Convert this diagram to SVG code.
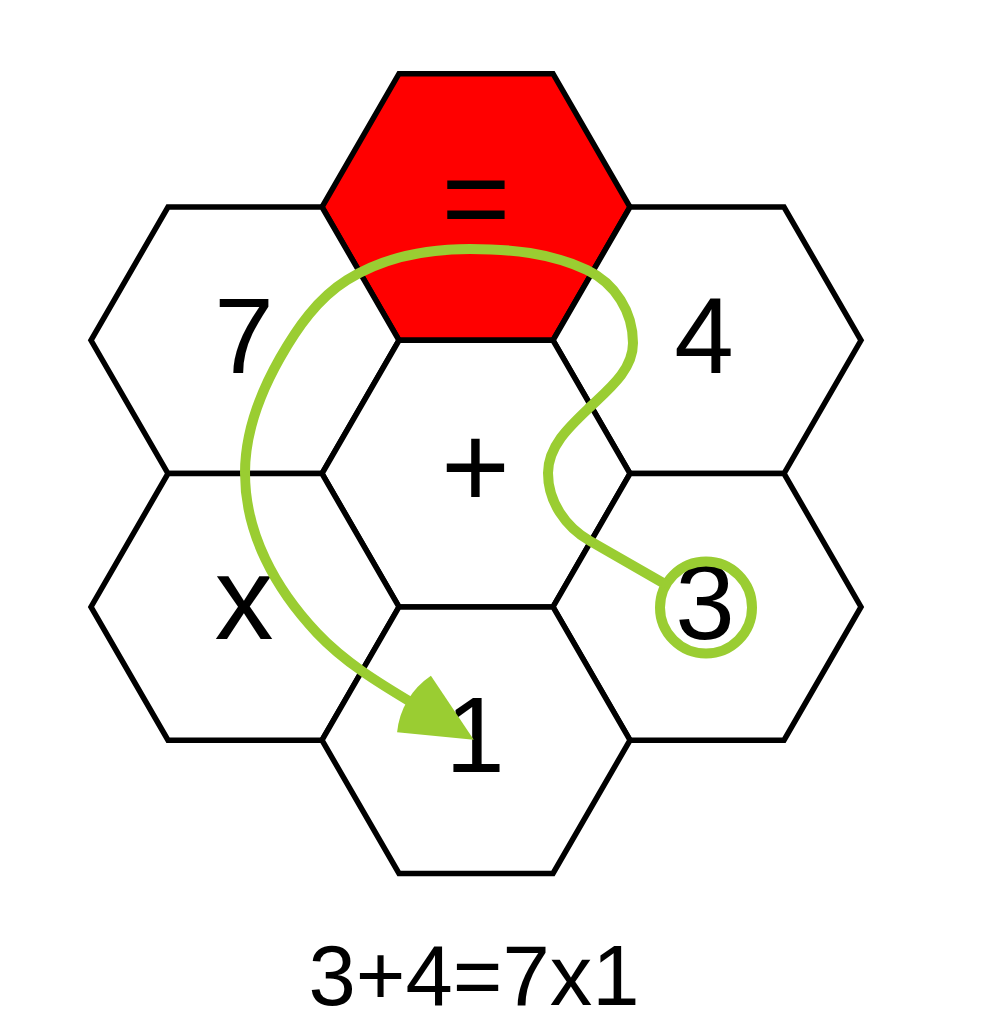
<svg xmlns="http://www.w3.org/2000/svg" width="1000" height="1025" viewBox="0 0 1000 1025">
  <style>
    .hex { fill: #FFFFFF; stroke: #000000; stroke-width: 5.5; }
    .hex.eq { fill: #FF0000; }
    .lbl { font-family: "Liberation Sans", Arial, sans-serif; font-size: 107px; fill: #000000; text-anchor: middle; }
    .op { font-size: 118px; }
    .conn { fill: none; stroke: #9ACD32; stroke-width: 10; }
    .caption { font-family: "Liberation Sans", Arial, sans-serif; font-size: 85px; fill: #000000; text-anchor: middle; }
  </style>
  <defs>
    <marker id="sectorArrow" markerUnits="userSpaceOnUse" markerWidth="80" markerHeight="80" refX="0" refY="0" orient="auto" overflow="visible">
      <path d="M69.6,0 L0,-33 A77,77 0 0,0 0,33 Z" fill="#9ACD32"/>
    </marker>
  </defs>
  <rect x="0" y="0" width="1000" height="1025" fill="#FFFFFF"/>

  <g id="node-equals">
    <polygon class="hex eq" points="399,73.7 553,73.7 630,207 553,340.3 399,340.3 322,207"/>
    <text class="lbl op" x="476" y="238.7">=</text>
  </g>
  <g id="node-7">
    <polygon class="hex" points="168,207 322,207 399,340.3 322,473.6 168,473.6 91,340.3"/>
    <text class="lbl" x="244" y="373">7</text>
  </g>
  <g id="node-4">
    <polygon class="hex" points="630,207 784,207 861,340.3 784,473.6 630,473.6 553,340.3"/>
    <text class="lbl" x="704" y="373">4</text>
  </g>
  <g id="node-plus">
    <polygon class="hex" points="399,340.3 553,340.3 630,473.6 553,606.9 399,606.9 322,473.6"/>
    <text class="lbl op" x="475.5" y="506.5">+</text>
  </g>
  <g id="node-x">
    <polygon class="hex" points="168,473.6 322,473.6 399,606.9 322,740.2 168,740.2 91,606.9"/>
    <text class="lbl op" x="244" y="639">x</text>
  </g>
  <g id="node-3">
    <polygon class="hex" points="630,473.6 784,473.6 861,606.9 784,740.2 630,740.2 553,606.9"/>
    <text class="lbl" x="705" y="639">3</text>
  </g>
  <g id="node-1">
    <polygon class="hex" points="399,606.9 553,606.9 630,740.2 553,873.5 399,873.5 322,740.2"/>
    <text class="lbl" x="475" y="772">1</text>
  </g>

  <g id="connectors">
    <circle class="conn" cx="706" cy="607.5" r="46"/>
    <path class="conn" marker-end="url(#sectorArrow)" d="M666,584.6 L590,541 C565.3,526.8 548,501.5 548,473 C548,445.8 570.3,425.7 590,407 C609.5,388.6 633,369.8 633,343 C633,311.8 615.2,283.4 587,270 C550.7,252.8 510.1,249 470,249 C426.9,249 383.5,257.1 347,280 C317.6,298.4 297.1,327.8 280,358 C259.9,393.4 245,432.3 245,473 C245,533.6 275.4,588.9 317,633 C344.6,662.3 379.5,683.4 414,704"/>
  </g>

  <text class="caption" x="474" y="1005">3+4=7x1</text>
</svg>
